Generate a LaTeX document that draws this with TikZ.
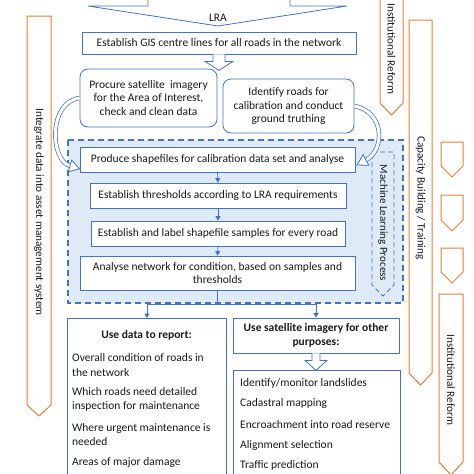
\documentclass[tikz,border=0pt]{standalone}
\usepackage{fontspec}
\setmainfont{Carlito}
\usetikzlibrary{arrows.meta,calc}
\definecolor{lrablue}{HTML}{4472C4}
\definecolor{lraorange}{HTML}{ED7D31}
\definecolor{mlfill}{HTML}{DEEBF7}
\definecolor{txt}{HTML}{1A1A1A}

\begin{document}
\begin{tikzpicture}[x=1pt,y=-1pt,>={Triangle[length=4.5pt,width=5pt]},
    box/.style={draw=lrablue,fill=white,line width=0.8pt,align=center,inner sep=0pt,text=txt,font=\fontsize{11.5}{13.6}\selectfont},
    rbox/.style={box,rounded corners=8pt},
    item/.style={anchor=west,align=left,inner sep=0pt,text=txt,font=\fontsize{11.5}{14.5}\selectfont},
    flow/.style={->,draw=lrablue,line width=0.7pt},
    hollow/.style={draw=lrablue,fill=white,line width=0.8pt},
    curvearrow/.style={draw=lrablue,double=white,double distance=3pt,line width=0.7pt},
    reform/.style={draw=lraorange,fill=white,line width=1pt},
    vlabel/.style={rotate=-90,inner sep=0pt,text=txt,font=\fontsize{11.2}{13}\selectfont}]
                \path[use as bounding box] (0,0) rectangle (474,474);
                \clip (0,0) rectangle (474,474);

                % orange side arrows
                \draw[reform] (27,16)--(51,16)--(51,405)--(39,416)--(27,405)--cycle;
                \node[vlabel] (integrate) at (39,212) {Integrate data into asset management system};
                \draw[reform] (380,-5)--(403,-5)--(403,103)--(391.5,115)--(380,103)--cycle;
                \node[vlabel] (reformtop) at (391.5,49) {Institutional Reform};
                \draw[reform] (409,20)--(432,20)--(432,373)--(420.5,385)--(409,373)--cycle;
                \node[vlabel] (capacity) at (420.5,198) {Capacity Building / Training};
                \draw[reform] (441,142)--(463,142)--(463,166)--(452,177)--(441,166)--cycle;
                \draw[reform] (441,195)--(463,195)--(463,220)--(452,231)--(441,220)--cycle;
                \draw[reform] (441,248)--(463,248)--(463,272)--(452,283)--(441,272)--cycle;
                \draw[reform] (439,294)--(463,294)--(463,462)--(451,475)--(439,462)--cycle;
                \node[vlabel] (reformbot) at (451,380) {Institutional Reform};

                % LRA arrow and first steps
                \draw[hollow] (148,-5)--(148,6)--(88,6)--(218,26)--(347,6)--(290,6)--(290,-5)--cycle;
                \node[text=txt,font=\fontsize{11.5}{13}\selectfont] (lra) at (218,18) {LRA};
                \node[box,minimum width=274pt,minimum height=22pt] (gis) at (219,43) {Establish GIS centre lines for all roads in the network};
                \node[rbox,minimum width=137pt,minimum height=58pt] (procure) at (148.5,98) {Procure satellite\ \ imagery\\for the Area of Interest,\\check and clean data};
                \node[rbox,minimum width=131pt,minimum height=54pt] (identify) at (288.5,106) {Identify roads for\\calibration and conduct\\ground truthing};
                \draw[hollow] ($(gis.south)+(-6,0)$) -- ++(0,7) -- ++(-8,0) -- ++(14,9) -- ++(14,-9) -- ++(-8,0) -- ++(0,-7);

                % machine learning process
                \draw[lrablue,fill=mlfill,line width=1.1pt,dash pattern=on 6pt off 4pt] (68,140) rectangle (403,303);
                \draw[lrablue,line width=0.9pt,dash pattern=on 5pt off 3pt] (372,152)--(394,152)--(394,285)--(383,296)--(372,285)--cycle;
                \node[vlabel,font=\fontsize{11}{12}\selectfont] (ml) at (383,223) {Machine Learning Process};
                \node[box,minimum width=275pt,minimum height=25pt] (produce) at (217.5,159.5) {Produce shapefiles for calibration data set and analyse};
                \node[box,minimum width=256pt,minimum height=25pt] (thresh) at (218,195.5) {Establish thresholds according to LRA requirements};
                \node[box,minimum width=254pt,minimum height=25pt] (samples) at (218,233.5) {Establish and label shapefile samples for every road};
                \node[box,minimum width=275pt,minimum height=34pt] (analyse) at (217.5,273) {Analyse network for condition, based on samples and\\thresholds};
                \draw[flow] (produce.south) -- (thresh.north);
                \draw[flow] (thresh.south) -- (samples.north);
                \draw[flow] (samples.south) -- (analyse.north);

                \draw[curvearrow] (procure.west) .. controls (48,102) and (50,160) .. (70,166);
                \draw[hollow] (71.7,160.3) -- (79.6,168.9) -- (68.3,171.7) -- cycle;
                \draw[curvearrow] (identify.east) .. controls (385,112) and (385,150) .. (366,160);
                \draw[hollow] (363.2,154.7) -- (357,165) -- (368.8,165.3) -- cycle;

                % outputs
                \node[box,minimum width=159pt,minimum height=180pt,anchor=north west] (report) at (67,318) {};
                \node[box,minimum width=166pt,minimum height=35pt,font=\fontsize{11.5}{14.5}\selectfont\bfseries] (other) at (316,335.5) {Use satellite imagery for other\\purposes:};
                \node[box,minimum width=167pt,minimum height=130pt,anchor=north west] (uses) at (233,370) {};
                \draw[hollow] ($(other.south)+(-4,0)$) -- ++(0,7) -- ++(-7,0) -- ++(11,10) -- ++(11,-10) -- ++(-7,0) -- ++(0,-7);
                \draw[lrablue,line width=0.7pt] (analyse.south) -- ++(0,14) coordinate (split);
                \draw[flow] (split) -| (report.north);
                \draw[flow] (split) -| (other.north);

                \node[text=txt,font=\fontsize{11.5}{13}\selectfont\bfseries] (rephead) at (146.5,335) {Use data to report:};
                \node[item] (rep1) at (72,365) {Overall condition of roads in\\the network};
                \node[item] (rep2) at (72,399.5) {Which roads need detailed\\inspection for maintenance};
                \node[item] (rep3) at (72,434.5) {Where urgent maintenance is\\needed};
                \node[item] (rep4) at (72,462) {Areas of major damage};
                \foreach \t [count=\i] in {Identify/monitor landslides,Cadastral mapping,Encroachment into road reserve,Alignment selection,Traffic prediction}
                    \node[item] (use\i) at (240,362.3+20.7*\i) {\t};
            \end{tikzpicture}
\end{document}
